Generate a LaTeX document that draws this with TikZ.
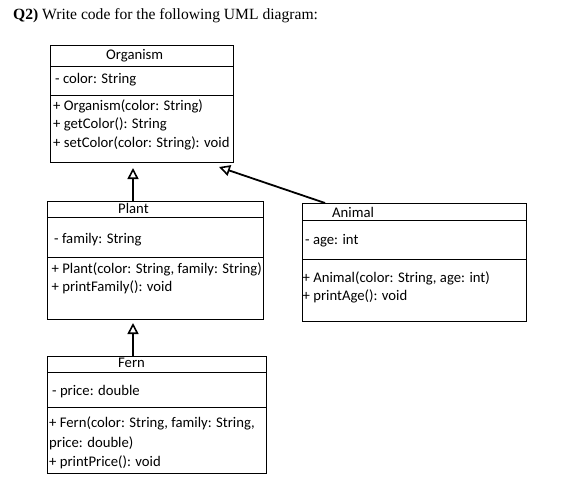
\documentclass[tikz,border=0pt]{standalone}
\usepackage{fontspec}
\setmainfont{Liberation Serif}
\newfontfamily\calfont{Carlito}
\usetikzlibrary{arrows.meta}
\tikzset{
  umlbox/.style={draw=black, line width=1pt, anchor=north west, inner sep=0pt},
  sepline/.style={draw=black, line width=0.9pt},
  txt/.style={anchor=base west, inner sep=0pt, font=\calfont\fontsize{14.7}{17}\selectfont},
  inherit/.style={draw=black, line width=1.8pt, -{Triangle[open, length=11pt, width=11pt, line width=1.6pt]}, shorten >=5.5pt},
  heading/.style={anchor=base west, inner sep=0pt, font=\fontsize{15.6}{18}\selectfont}
}
\begin{document}
\begin{tikzpicture}[x=1pt,y=-1pt]
\useasboundingbox[fill=white] (0,0) rectangle (588,496);

\node[heading] (q) at (13,19) {\textbf{Q2)} Write code for the following UML diagram:};

% Organism
\node[umlbox, minimum width=183pt, minimum height=116.5pt] (org) at (50,45) {};
\draw[sepline] (50,66) -- (233,66);
\draw[sepline] (50,95) -- (233,95);
\node[txt] (orgT) at (106,59.5) {Organism};
\node[txt] (orgA) at (55,83) {- color: String};
\node[txt] (orgM1) at (53,110.5) {+ Organism(color: String)};
\node[txt] (orgM2) at (53,128.5) {+ getColor(): String};
\node[txt] (orgM3) at (53,147.5) {+ setColor(color: String): void};

% Plant
\node[umlbox, minimum width=216pt, minimum height=118.5pt] (plant) at (47,200.5) {};
\draw[sepline] (47,217) -- (263,217);
\draw[sepline] (47,257) -- (264,257);
\node[txt] (plantT) at (118,213.5) {Plant};
\node[txt] (plantA) at (54,243.5) {- family: String};
\node[txt] (plantM1) at (51.5,273.5) {+ Plant(color: String, family: String)};
\node[txt] (plantM2) at (51.5,291.5) {+ printFamily(): void};

% Animal
\node[umlbox, minimum width=224pt, minimum height=118pt] (animal) at (302,203) {};
\draw[sepline] (302,220) -- (526,220);
\draw[sepline] (302,259.5) -- (526,259.5);
\node[txt] (animalT) at (332,217.5) {Animal};
\node[txt] (animalA) at (305,244) {- age: int};
\node[txt] (animalM1) at (302.5,282.5) {+ Animal(color: String, age: int)};
\node[txt] (animalM2) at (302.5,300.5) {+ printAge(): void};

% Fern
\node[umlbox, minimum width=219pt, minimum height=117pt] (fern) at (47,356) {};
\draw[sepline] (47,372) -- (266,372);
\draw[sepline] (47,407) -- (266,407);
\node[txt] (fernT) at (118,367.5) {Fern};
\node[txt] (fernA) at (52,395) {- price: double};
\node[txt] (fernM1) at (49,427.5) {+ Fern(color: String, family: String,};
\node[txt] (fernM1b) at (49,447) {price: double)};
\node[txt] (fernM2) at (49,466) {+ printPrice(): void};

% connectors
\coordinate (animalIn) at (325,203);
\coordinate (orgTip) at (219,167);
\draw[inherit] (plant.north -| 133,0) -- (org.south -| 133,0);
\draw[inherit, shorten >=3pt] (fern.north -| 133,0) -- (plant.south -| 133,0);
\draw[inherit, shorten >=0pt] (animalIn) -- (orgTip);
\end{tikzpicture}
\end{document}
